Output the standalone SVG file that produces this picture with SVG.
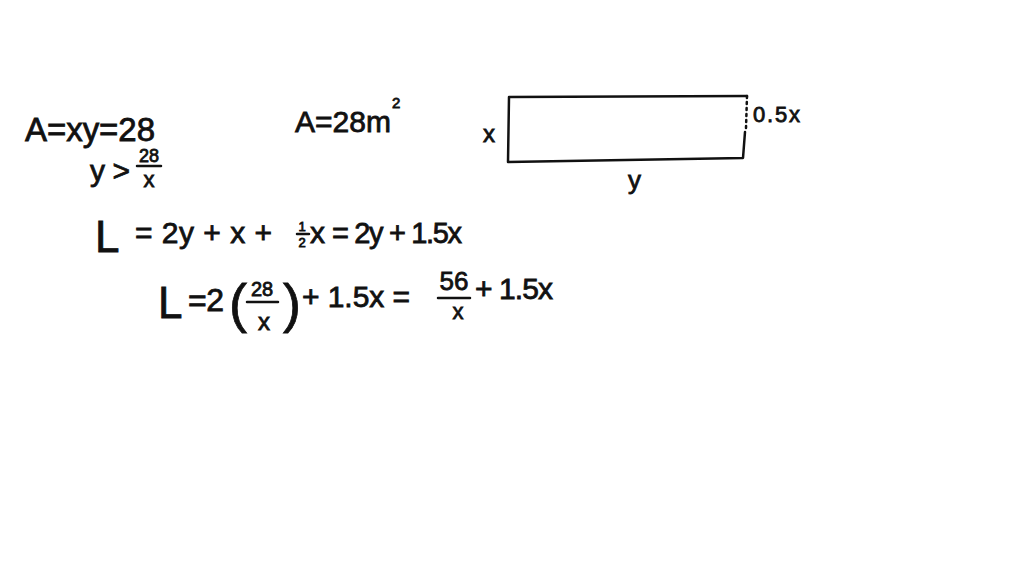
<svg xmlns="http://www.w3.org/2000/svg" width="1024" height="576" viewBox="0 0 1024 576">
<style>
text{font-family:"Liberation Sans","DejaVu Sans",sans-serif;fill:#111;stroke:#111;stroke-width:0.8}
.ln{stroke:#111;stroke-width:2.5;fill:none;stroke-linecap:round;stroke-linejoin:round}
</style>
<rect width="1024" height="576" fill="#fff"/>
<g id="area-eq">
<text x="25" y="141" font-size="33" textLength="130" lengthAdjust="spacing">A=xy=28</text>
<text x="90" y="181" font-size="30" textLength="40" lengthAdjust="spacing">y &gt;</text>
<text x="149" y="162" font-size="18" text-anchor="middle">28</text>
<line class="ln" x1="137" y1="166" x2="161" y2="166"/>
<text x="149" y="187" font-size="22" text-anchor="middle">x</text>
</g>
<g id="area-value">
<text x="295" y="132" font-size="30">A=28m<tspan dx="1" dy="-24" font-size="15">2</tspan></text>
</g>
<g id="rectangle">
<path class="ln" d="M745,132 L743,158 L508,162 L509,97 L747,96"/>
<line class="ln" x1="747" y1="96" x2="746" y2="128" stroke-dasharray="2 4"/>
<text x="483" y="142" font-size="24">x</text>
<text x="753" y="122" font-size="22" textLength="47" lengthAdjust="spacing">0.5x</text>
<text x="628" y="189" font-size="26">y</text>
</g>
<g id="length-eq">
<text x="95" y="252" font-size="44">L</text>
<text x="135" y="243" font-size="30" textLength="137" lengthAdjust="spacing">= 2y + x +</text>
<text x="302" y="231" font-size="13" text-anchor="middle">1</text>
<line class="ln" x1="297" y1="234" x2="309" y2="234" stroke-width="1.8"/>
<text x="302" y="247" font-size="13" text-anchor="middle">2</text>
<text x="310" y="243" font-size="30">x</text>
<text x="332" y="243" font-size="29" textLength="130" lengthAdjust="spacing">= 2y + 1.5x</text>
</g>
<g id="length-sub">
<text x="158" y="318" font-size="44">L</text>
<text x="188" y="311" font-size="32" textLength="36" lengthAdjust="spacing">= 2</text>
<text x="229" y="322" font-size="54" stroke-width="0.3">(</text>
<text x="262" y="296" font-size="20" text-anchor="middle">28</text>
<line class="ln" x1="247" y1="302" x2="278" y2="302"/>
<text x="264" y="330" font-size="24" text-anchor="middle">x</text>
<text x="283" y="322" font-size="54" stroke-width="0.3">)</text>
<text x="302" y="307" font-size="30" textLength="108" lengthAdjust="spacing">+ 1.5x =</text>
<text x="454" y="290" font-size="26" text-anchor="middle">56</text>
<line class="ln" x1="438" y1="298" x2="470" y2="298"/>
<text x="458" y="319" font-size="22" text-anchor="middle">x</text>
<text x="475" y="299" font-size="30" textLength="78" lengthAdjust="spacing">+ 1.5x</text>
</g>
</svg>
